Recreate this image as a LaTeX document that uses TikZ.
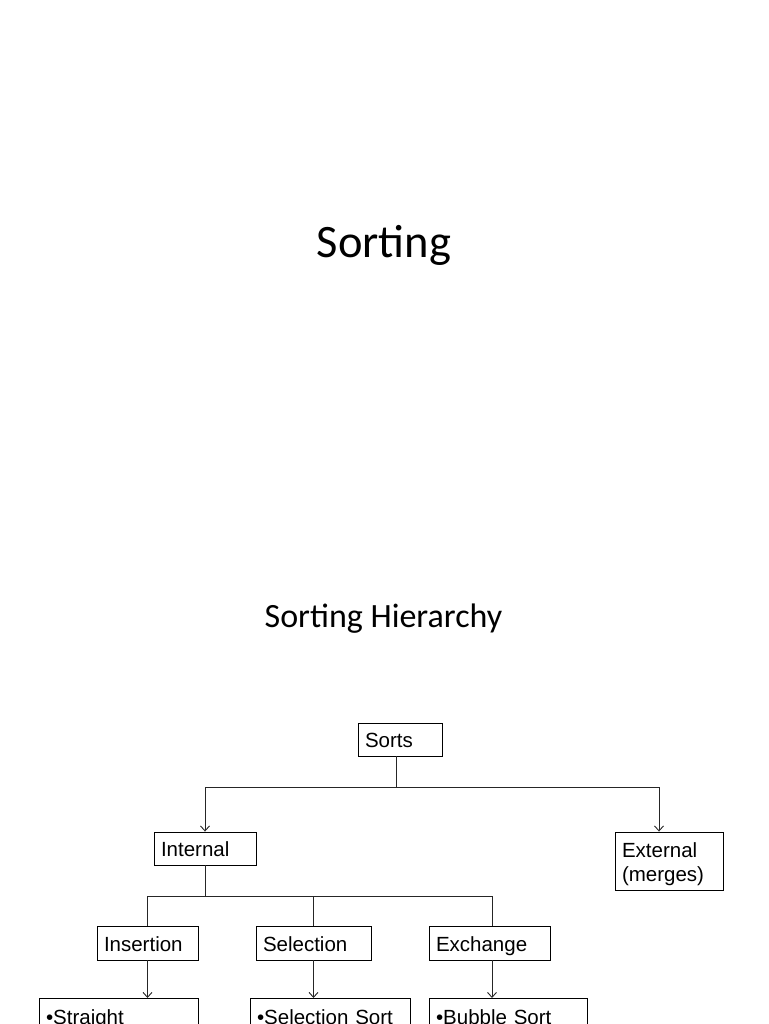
\documentclass[tikz,border=0pt]{standalone}
\usepackage{fontspec}
\setmainfont{Liberation Sans}
\newfontfamily\titlefont{Carlito}
\usetikzlibrary{arrows.meta,calc}
\begin{document}
\begin{tikzpicture}[x=1pt,y=-1pt,
  box/.style={draw=black,line width=0.9pt,inner xsep=7pt,inner ysep=0pt,align=left,
    font=\fontsize{20.5}{24}\selectfont,text height=18pt,text depth=2pt},
  leafbox/.style={box,anchor=north,inner ysep=0pt,text height=26pt,text depth=40pt},
  link/.style={draw=black!85,line width=0.9pt},
  arr/.style={link,-{Straight Barb[length=5pt,width=9pt,line width=0.9pt]}},
  title/.style={font=\titlefont\fontsize{46.5}{50}\selectfont,anchor=base},
  subtitle/.style={font=\titlefont\fontsize{34}{40}\selectfont,anchor=base}]
\useasboundingbox (0,0) rectangle (768,1024);
\clip (0,0) rectangle (768,1024);
\fill[white] (0,0) rectangle (768,1024);

\node[title] (t1) at (384,258) {Sorting};
\node[subtitle] (t2) at (383.5,627) {Sorting Hierarchy};

\node[box,minimum width=84pt,minimum height=33pt,text width=70pt] (sorts) at (400,739.5) {Sorts};
\node[box,minimum width=102pt,minimum height=33pt,text width=88pt] (internal) at (205,848.5) {Internal};
\node[box,minimum width=108pt,minimum height=58pt,text width=94pt,text depth=26pt] (external) at (669,861) {External\\(merges)};

\node[box,minimum width=101pt,minimum height=34pt,text width=87pt] (insertion) at (147.5,943) {Insertion};
\node[box,minimum width=115pt,minimum height=34pt,text width=101pt] (selection) at (313.5,943) {Selection};
\node[box,minimum width=121pt,minimum height=34pt,text width=107pt] (exchange) at (489.5,943) {Exchange};

\node[leafbox,minimum width=159pt,text width=145pt] (straight) at (118.5,998) {•Straight};
\node[leafbox,minimum width=160pt,text width=146pt] (selsort) at (330,998) {•Selection Sort};
\node[leafbox,minimum width=158pt,text width=144pt] (bubble) at (508,998) {•Bubble Sort};

\coordinate (b1) at (396.5,787);
\draw[link] (sorts.south -| b1) -- (b1);
\draw[arr] (b1) -| (internal.north);
\draw[arr] (b1) -| ([xshift=-10pt]external.north);

\coordinate (b2) at (205,896);
\draw[link] (internal.south) -- (b2);
\draw[link] (b2) -| (insertion.north);
\draw[link] (b2) -| ([xshift=2.5pt]exchange.north);
\draw[link] (selection.north) -- (selection.north |- b2);

\draw[arr] (insertion.south) -- (insertion.south |- straight.north);
\draw[arr] (selection.south) -- (selection.south |- selsort.north);
\draw[arr] ([xshift=2.5pt]exchange.south) -- ([xshift=2.5pt]exchange.south |- bubble.north);
\end{tikzpicture}
\end{document}
